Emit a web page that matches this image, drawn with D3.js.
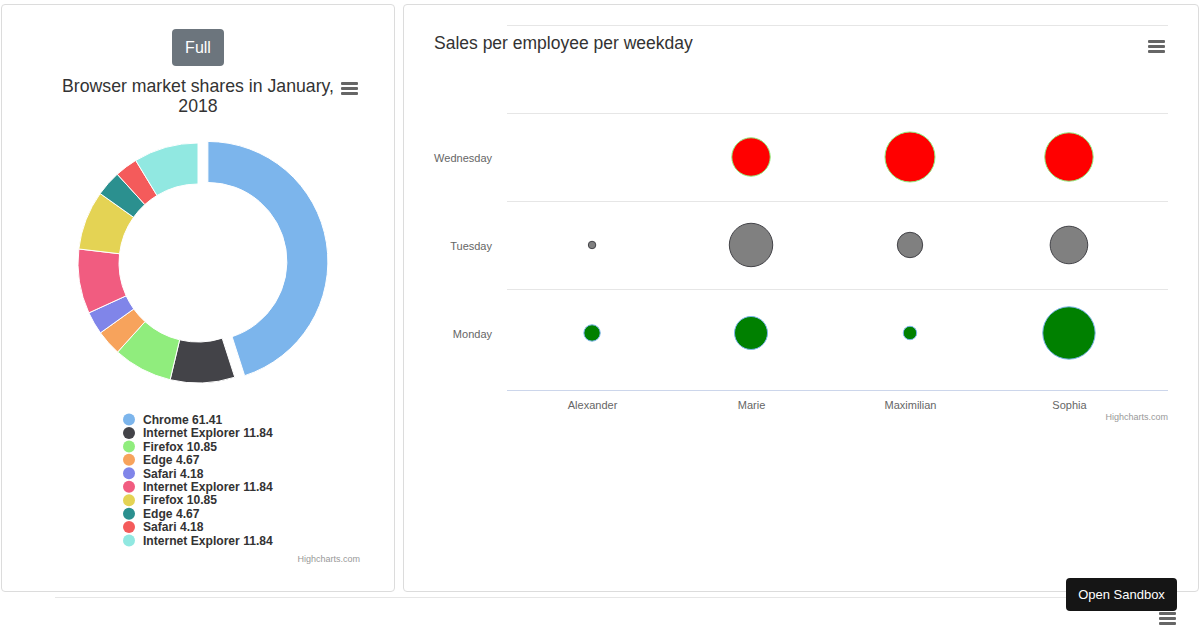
<!DOCTYPE html>
<html>
<head>
<meta charset="utf-8">
<script src="https://cdn.jsdelivr.net/npm/d3@7"></script>
<style>
  body { margin: 0; width: 1200px; height: 630px; background: #fff; overflow: hidden;
         font-family: "Liberation Sans", Arial, sans-serif; position: relative; }
  .card { position: absolute; border: 1px solid #dcdcdc; border-radius: 4px; background: #fff; }
  .btn { position: absolute; border-radius: 4px; color: #fff; text-align: center; }
  svg { position: absolute; left: 0; top: 0; }
</style>
</head>
<body>
<div class="card" style="left:1px;top:4px;width:392px;height:586px"></div>
<div class="card" style="left:403px;top:4px;width:794px;height:586px"></div>
<div class="btn" style="left:172px;top:29px;width:52px;height:37px;line-height:37px;background:#6c757d;font-size:16px">Full</div>
<svg id="chart" width="1200" height="630"></svg>
<div class="btn" style="left:1066px;top:578px;width:111px;height:33px;line-height:33px;background:#151515;font-size:13px">Open Sandbox</div>
<script>
// pie data
const browsers = ["Chrome", "Internet Explorer", "Firefox", "Edge", "Safari",
                  "Internet Explorer", "Firefox", "Edge", "Safari", "Internet Explorer"];
const shares = [61.41, 11.84, 10.85, 4.67, 4.18, 11.84, 10.85, 4.67, 4.18, 11.84];
const pieColors = ["#7cb5ec", "#434348", "#90ed7d", "#f7a35c", "#8085e9",
                   "#f15c80", "#e4d354", "#2b908f", "#f45b5b", "#91e8e1"];

// bubble data
const employees = ["Alexander", "Marie", "Maximilian", "Sophia"];
const weekdays = ["Monday", "Tuesday", "Wednesday"];
const mondaySales = [67, 272, 45, 686];
const tuesdaySales = [14, 471, 161, 353];
const wednesdaySales = [null, 369, 625, 586];
const bubbleFill = ["#008000", "#808080", "#ff0000"];
const bubbleStroke = ["#7cb5ec", "#434348", "#90ed7d"];

const svg = d3.select("#chart");

function hamburger(g, x, y) {
  g.append("g").attr("fill", "#666").selectAll("rect")
    .data([0, 5, 10]).enter().append("rect")
    .attr("x", x).attr("y", d => y + d).attr("width", 17).attr("height", 3).attr("rx", 1);
}

// ---------- donut ----------
const pieG = svg.append("g");
pieG.append("text").attr("x", 198).attr("y", 92).attr("text-anchor", "middle")
  .style("font-size", "17.7px").attr("fill", "#333").text("Browser market shares in January,");
pieG.append("text").attr("x", 198).attr("y", 112).attr("text-anchor", "middle")
  .style("font-size", "17.7px").attr("fill", "#333").text("2018");
hamburger(pieG, 341, 82);

const pieData = shares.map((v, i) => ({name: browsers[i], y: v, color: pieColors[i], sliced: i === 0}));
const pie = d3.pie().sort(null).value(d => d.y);
const outerR = 120, innerR = 79;
const arc = d3.arc().innerRadius(innerR).outerRadius(outerR);
const donut = pieG.append("g").attr("transform", "translate(198,263)");
donut.selectAll("path").data(pie(pieData)).enter().append("path")
  .attr("d", arc)
  .attr("fill", d => d.data.color)
  .attr("stroke", "#fff").attr("stroke-width", 1)
  .attr("transform", d => {
    if (!d.data.sliced) return null;
    const a = (d.startAngle + d.endAngle) / 2;
    return `translate(${10 * Math.sin(a)},${-10 * Math.cos(a)})`;
  });

const legend = pieG.append("g").selectAll("g").data(pieData).enter().append("g")
  .attr("transform", (d, i) => `translate(129,${419.5 + i * 13.45})`);
legend.append("circle").attr("r", 6).attr("fill", d => d.color);
legend.append("text").attr("x", 14).attr("dy", "0.35em")
  .style("font-size", "12.1px").style("font-weight", "bold").attr("fill", "#333")
  .text(d => `${d.name} ${d.y}`);
pieG.append("text").attr("x", 360).attr("y", 562).attr("text-anchor", "end")
  .style("font-size", "9px").attr("fill", "#999").text("Highcharts.com");

// ---------- bubble ----------
const bG = svg.append("g");
bG.append("text").attr("x", 434).attr("y", 49)
  .style("font-size", "17.5px").attr("fill", "#333").text("Sales per employee per weekday");
hamburger(bG, 1148, 40);

const x = d3.scaleLinear().domain([-0.535, 3.623]).range([507, 1168]);
const y = d3.scaleLinear().domain([-0.648, 3.5]).range([390, 25]);
const allSales = mondaySales.concat(tuesdaySales, wednesdaySales).filter(v => v != null);
const r = d3.scaleSqrt().domain([0, d3.max(allSales)]).range([0, 26.2]);

bG.append("g").selectAll("line").data([0.5, 1.5, 2.5, 3.5]).enter().append("line")
  .attr("x1", 507).attr("x2", 1168).attr("y1", d => Math.round(y(d)) + 0.5).attr("y2", d => Math.round(y(d)) + 0.5)
  .attr("stroke", "#e6e6e6");

const yAxis = g => g.attr("transform", "translate(507,1)")
  .call(d3.axisLeft(y).tickValues([0, 1, 2]).tickFormat(d => weekdays[d]).tickSize(0).tickPadding(15))
  .call(g => g.select(".domain").remove())
  .call(g => g.selectAll("text").attr("fill", "#666").style("font-size", "11px")
    .style("font-family", "'Liberation Sans', Arial, sans-serif"));
bG.append("g").call(yAxis);

const xAxis = g => g.attr("transform", "translate(0,390.5)")
  .call(d3.axisBottom(x).tickValues([0, 1, 2, 3]).tickFormat(d => employees[d]).tickSize(0).tickPadding(11))
  .call(g => g.select(".domain").attr("stroke", "#ccd6eb").attr("d", "M507,0H1168"))
  .call(g => g.selectAll("text").attr("fill", "#666").style("font-size", "11px")
    .style("font-family", "'Liberation Sans', Arial, sans-serif"));
bG.append("g").call(xAxis);

const series = [mondaySales, tuesdaySales, wednesdaySales];
series.forEach((vals, si) => {
  bG.append("g").selectAll("circle")
    .data(vals.map((v, i) => ({x: i, y: si, z: v})).filter(d => d.z != null))
    .enter().append("circle")
    .attr("cx", d => x(d.x)).attr("cy", d => y(d.y)).attr("r", d => r(d.z))
    .attr("fill", bubbleFill[si]).attr("stroke", bubbleStroke[si]).attr("stroke-width", 1);
});
bG.append("text").attr("x", 1168).attr("y", 420).attr("text-anchor", "end")
  .style("font-size", "9px").attr("fill", "#999").text("Highcharts.com");

// bottom sliver of the next chart
svg.append("line").attr("x1", 55).attr("x2", 1166).attr("y1", 597.5).attr("y2", 597.5).attr("stroke", "#e6e6e6");
hamburger(svg, 1159, 612);
</script>
</body>
</html>
